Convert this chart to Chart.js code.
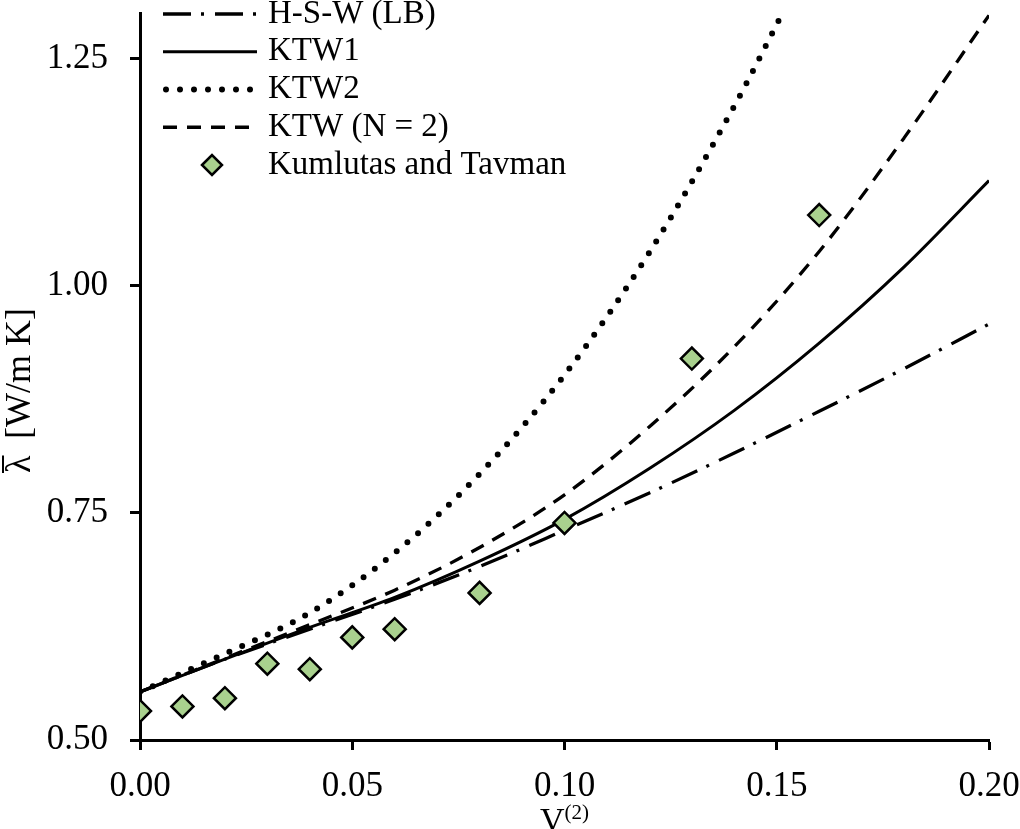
<!DOCTYPE html>
<html>
<head>
<meta charset="utf-8">
<title>Effective thermal conductivity vs V(2)</title>
<script src="https://cdn.jsdelivr.net/npm/chart.js@4.4.0/dist/chart.umd.min.js"></script>
<style>
  html, body { margin: 0; padding: 0; background: #fff; }
  #wrap { width: 1020px; height: 829px; position: relative; }
</style>
</head>
<body>
<div id="wrap"><canvas id="ktwChart"></canvas></div>
<script>
// -----------------------------
// Data
// -----------------------------
const xModel = [0, 0.02, 0.04, 0.06, 0.08, 0.10, 0.12, 0.14, 0.16, 0.18, 0.20];
const hswLB  = [0.553, 0.589, 0.622, 0.655, 0.691, 0.731, 0.772, 0.816, 0.862, 0.909, 0.958];
const ktw1   = [0.553, 0.589, 0.624, 0.657, 0.697, 0.743, 0.799, 0.863, 0.937, 1.021, 1.116];
const ktwN2  = [0.553, 0.590, 0.627, 0.665, 0.712, 0.770, 0.845, 0.933, 1.038, 1.163, 1.298];

const xKtw2  = [0, 0.02, 0.04, 0.06, 0.08, 0.10, 0.12, 0.14, 0.15, 0.16];
const ktw2   = [0.553, 0.595, 0.640, 0.706, 0.793, 0.902, 1.037, 1.198, 1.288, 1.38];

const xExp     = [0, 0.01, 0.02, 0.03, 0.04, 0.05, 0.06, 0.08, 0.10, 0.13, 0.16];
const kumlutas = [0.532, 0.537, 0.546, 0.584, 0.578, 0.613, 0.622, 0.662, 0.739, 0.920, 1.078];

const yTicks = [0.50, 0.75, 1.00, 1.25];
const seriesNames = ["H-S-W (LB)", "KTW1", "KTW2", "KTW (N = 2)", "Kumlutas and Tavman"];

const SERIF = "'Liberation Serif', 'Times New Roman', serif";

function toPoints(xs, ys) {
  return xs.map((x, i) => ({ x: x, y: ys[i] }));
}

function lineSet(label, xs, ys, dash, width, cap) {
  return {
    label: label,
    data: toPoints(xs, ys),
    showLine: true,
    borderColor: "#000",
    borderWidth: width,
    borderDash: dash,
    borderCapStyle: cap || "butt",
    pointRadius: 0,
    pointHoverRadius: 0,
    cubicInterpolationMode: "monotone",
    fill: false
  };
}

// -----------------------------
// Custom legend + axis titles
// -----------------------------
const extrasPlugin = {
  id: "extras",
  afterDraw(chart) {
    const ctx = chart.ctx;
    const sets = chart.data.datasets;
    ctx.save();
    ctx.font = "33px " + SERIF;
    ctx.fillStyle = "#000";
    ctx.textBaseline = "middle";
    ctx.textAlign = "left";
    sets.forEach((ds, i) => {
      const y = 14 + i * 37.75;
      if (ds.showLine) {
        ctx.save();
        ctx.strokeStyle = "#000";
        ctx.lineWidth = ds.borderWidth;
        ctx.lineCap = ds.borderCapStyle;
        ctx.setLineDash(ds.borderDash || []);
        ctx.beginPath();
        ctx.moveTo(ds.borderDash && ds.borderDash[0] === 0 ? 166 : 163, y);
        ctx.lineTo(257, y);
        ctx.stroke();
        ctx.restore();
      } else {
        ctx.save();
        ctx.fillStyle = ds.pointBackgroundColor;
        ctx.strokeStyle = ds.pointBorderColor;
        ctx.lineWidth = ds.pointBorderWidth;
        const r = 10;
        ctx.beginPath();
        ctx.moveTo(212 - r, y);
        ctx.lineTo(212, y - r);
        ctx.lineTo(212 + r, y);
        ctx.lineTo(212, y + r);
        ctx.closePath();
        ctx.fill();
        ctx.stroke();
        ctx.restore();
      }
      ctx.fillText(ds.label, 268, y);
    });

    // x axis title: V with superscript (2)
    const cx = (chart.chartArea.left + chart.chartArea.right) / 2;
    ctx.textBaseline = "alphabetic";
    ctx.font = "34px " + SERIF;
    const wV = ctx.measureText("V").width;
    ctx.font = "21px " + SERIF;
    const wS = ctx.measureText("(2)").width;
    const x0 = cx - (wV + wS) / 2;
    ctx.font = "34px " + SERIF;
    ctx.fillText("V", x0, 831);
    ctx.font = "21px " + SERIF;
    ctx.fillText("(2)", x0 + wV, 819);

    // y axis title: lambda with overbar, then [W/m K], rotated
    ctx.translate(30, 389);
    ctx.rotate(-Math.PI / 2);
    ctx.font = "36px " + SERIF;
    ctx.textAlign = "left";
    const wL = ctx.measureText("\u03BB").width;
    ctx.fillText("\u03BB", -84, 0);
    ctx.fillText("[W/m K]", -50, 0);
    ctx.lineWidth = 2;
    ctx.strokeStyle = "#000";
    ctx.beginPath();
    ctx.moveTo(-84, -27);
    ctx.lineTo(-84 + wL, -27);
    ctx.stroke();
    ctx.restore();
  }
};

// -----------------------------
// Chart
// -----------------------------
Chart.defaults.color = "#000";
Chart.defaults.font.family = SERIF;

const chartEl = document.getElementById("ktwChart");

new Chart(chartEl.getContext("2d"), {
  type: "scatter",
  data: {
    datasets: [
      lineSet(seriesNames[0], xModel, hswLB, [28, 10, 3, 11], 3.3),
      lineSet(seriesNames[1], xModel, ktw1, [], 3),
      lineSet(seriesNames[2], xKtw2, ktw2, [0, 14], 6, "round"),
      lineSet(seriesNames[3], xModel, ktwN2, [14, 10], 3.3),
      {
        label: seriesNames[4],
        data: toPoints(xExp, kumlutas),
        showLine: false,
        pointStyle: "rectRot",
        pointRadius: 11,
        pointHoverRadius: 11,
        pointBackgroundColor: "#a9d18e",
        pointBorderColor: "#000",
        pointBorderWidth: 2.5,
        order: -1
      }
    ]
  },
  options: {
    responsive: true,
    maintainAspectRatio: false,
    animation: false,
    layout: { padding: { left: 0, top: 13, right: 31, bottom: 0 } },
    plugins: {
      legend: { display: false },
      tooltip: { enabled: false }
    },
    scales: {
      x: {
        type: "linear",
        min: 0,
        max: 0.2,
        afterFit: (scale) => {
          scale.height = 89;
          scale.paddingLeft = 0;
          scale.paddingRight = 0;
        },
        ticks: {
          stepSize: 0.05,
          padding: 16,
          font: { size: 35, family: SERIF },
          callback: (v) => Number(v).toFixed(2)
        },
        grid: {
          drawOnChartArea: false,
          drawTicks: true,
          tickLength: 10,
          tickWidth: 3,
          tickColor: "#000"
        },
        border: { display: true, color: "#000", width: 3 }
      },
      y: {
        type: "linear",
        min: 0.5,
        max: 1.3,
        afterFit: (scale) => {
          scale.width = 140;
          scale.paddingTop = 0;
          scale.paddingBottom = 0;
        },
        afterBuildTicks: (scale) => {
          scale.ticks = yTicks.map((v) => ({ value: v }));
        },
        ticks: {
          padding: 22,
          font: { size: 35, family: SERIF },
          callback: (v) => Number(v).toFixed(2)
        },
        grid: {
          drawOnChartArea: false,
          drawTicks: true,
          tickLength: 10,
          tickWidth: 3,
          tickColor: "#000"
        },
        border: { display: true, color: "#000", width: 3 }
      }
    }
  },
  plugins: [extrasPlugin]
});
</script>
</body>
</html>
